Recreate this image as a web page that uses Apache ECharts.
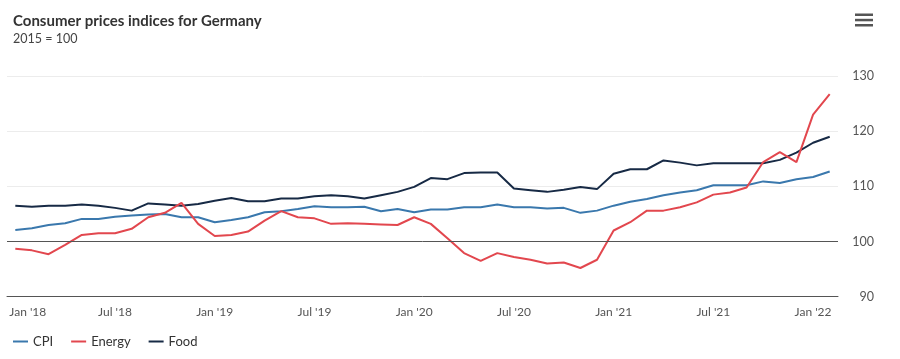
<!DOCTYPE html>
<html>
<head>
<meta charset="utf-8">
<script src="https://cdn.jsdelivr.net/npm/echarts@6/dist/echarts.min.js"></script>
<style>
html,body{margin:0;padding:0;background:#fff;}
#chart{width:900px;height:359px;}
</style>
</head>
<body>
<div id="chart"></div>
<script>
// Monthly categories Jan 2018 .. Feb 2022
const categories = [
  "Jan '18","Feb '18","Mar '18","Apr '18","May '18","Jun '18","Jul '18","Aug '18","Sep '18","Oct '18","Nov '18","Dec '18",
  "Jan '19","Feb '19","Mar '19","Apr '19","May '19","Jun '19","Jul '19","Aug '19","Sep '19","Oct '19","Nov '19","Dec '19",
  "Jan '20","Feb '20","Mar '20","Apr '20","May '20","Jun '20","Jul '20","Aug '20","Sep '20","Oct '20","Nov '20","Dec '20",
  "Jan '21","Feb '21","Mar '21","Apr '21","May '21","Jun '21","Jul '21","Aug '21","Sep '21","Oct '21","Nov '21","Dec '21",
  "Jan '22","Feb '22"
];
const cpi = [
  102.1,102.4,103.0,103.3,104.1,104.1,104.5,104.7,104.9,105.0,104.4,104.4,
  103.5,103.9,104.4,105.3,105.5,105.9,106.4,106.2,106.2,106.3,105.5,105.9,
  105.3,105.8,105.8,106.2,106.2,106.7,106.2,106.2,106.0,106.1,105.2,105.6,
  106.5,107.2,107.7,108.4,108.9,109.3,110.2,110.2,110.2,110.9,110.6,111.3,
  111.7,112.7
];
const energy = [
  98.7,98.4,97.7,99.4,101.2,101.5,101.5,102.3,104.4,105.2,107.0,103.2,
  101.0,101.2,101.8,103.8,105.5,104.4,104.2,103.2,103.3,103.2,103.1,103.0,
  104.4,103.2,100.6,97.9,96.5,97.9,97.2,96.7,96.0,96.2,95.2,96.7,
  102.0,103.5,105.6,105.6,106.2,107.1,108.5,108.9,109.8,114.4,116.2,114.4,
  123.0,126.7
];
const food = [
  106.5,106.3,106.5,106.5,106.7,106.5,106.1,105.6,106.9,106.7,106.5,106.8,
  107.4,107.9,107.3,107.3,107.8,107.8,108.2,108.4,108.2,107.8,108.4,109.0,
  109.9,111.5,111.3,112.4,112.5,112.5,109.6,109.3,109.0,109.4,109.9,109.5,
  112.3,113.1,113.1,114.7,114.3,113.8,114.2,114.2,114.2,114.2,114.8,116.1,
  117.9,119.0
];
const yTicks = [90, 100, 110, 120, 130];
const seriesNames = ['CPI', 'Energy', 'Food'];
const colors = ['#3a78ad', '#e2474e', '#172a45'];

const FONT = 'Lato, "Open Sans", sans-serif';
const chart = echarts.init(document.getElementById('chart'), null, {renderer: 'canvas'});

chart.setOption({
  animation: false,
  color: colors,
  textStyle: {fontFamily: FONT},
  title: [
    {text: 'Consumer prices indices for Germany', left: 8, top: 9,
     textStyle: {fontFamily: FONT, fontSize: 15, fontWeight: 'bold', color: '#333'}},
    {text: '2015 = 100', left: 8, top: 27,
     textStyle: {fontFamily: FONT, fontSize: 12.5, fontWeight: 'normal', color: '#444'}}
  ],
  legend: {
    left: 8, top: 330,
    itemWidth: 15, itemHeight: 2, itemGap: 18,
    icon: 'rect',
    textStyle: {fontFamily: FONT, fontSize: 13, color: '#333'},
    data: seriesNames
  },
  grid: {left: 7, right: 62, top: 76, bottom: 62.3, containLabel: false},
  xAxis: [
    {
      type: 'category', data: categories, boundaryGap: true,
      axisLine: {lineStyle: {color: '#555', width: 1}},
      axisTick: {interval: 0, alignWithLabel: true, length: 4, lineStyle: {color: '#666'}},
      axisLabel: {
        interval: 5, color: '#555', fontSize: 12, fontFamily: FONT, margin: 9,
        formatter: function (v, i) { return i === 0 ? '{a|' + v + '}' : v; },
        rich: {a: {padding: [0, 0, 0, 25], color: '#555', fontSize: 12, fontFamily: FONT}}
      },
      splitLine: {show: false}
    },
    {
      type: 'category', data: categories, boundaryGap: true, position: 'bottom', gridIndex: 0,
      axisLine: {show: false},
      axisTick: {interval: 5, alignWithLabel: true, length: 6, lineStyle: {color: '#555'}},
      axisLabel: {show: false},
      splitLine: {show: false}
    }
  ],
  yAxis: {
    type: 'value', position: 'right', min: 90, max: 130, interval: 10,
    axisLine: {show: false}, axisTick: {show: false},
    axisLabel: {color: '#555', fontSize: 12.5, fontFamily: FONT, align: 'right', margin: 36,
      formatter: function (v) { return yTicks.indexOf(v) >= 0 ? String(v) : ''; }},
    splitLine: {lineStyle: {color: '#ececec', width: 1}}
  },
  series: [
    {name: 'CPI', type: 'line', data: cpi, symbol: 'none', lineStyle: {width: 2}, z: 3,
     markLine: {silent: true, symbol: 'none', label: {show: false},
       lineStyle: {color: '#555', type: 'solid', width: 1},
       data: [{yAxis: 100}]}},
    {name: 'Energy', type: 'line', data: energy, symbol: 'none', lineStyle: {width: 2}, z: 4},
    {name: 'Food', type: 'line', data: food, symbol: 'none', lineStyle: {width: 2}, z: 2}
  ],
  graphic: [
    {type: 'rect', shape: {x: 855, y: 13.5, width: 18, height: 2.5}, style: {fill: '#555'}},
    {type: 'rect', shape: {x: 855, y: 18.8, width: 18, height: 2.5}, style: {fill: '#555'}},
    {type: 'rect', shape: {x: 855, y: 24, width: 18, height: 2.5}, style: {fill: '#555'}}
  ]
});
</script>
</body>
</html>
